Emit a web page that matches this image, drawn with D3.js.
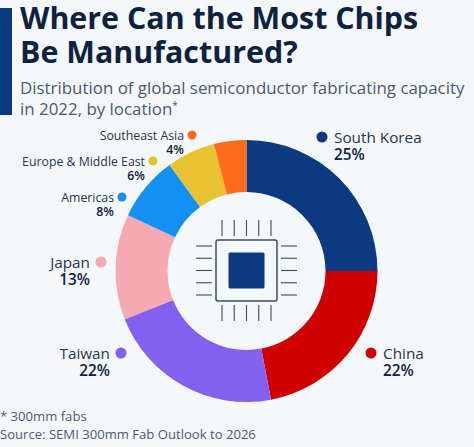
<!DOCTYPE html>
<html>
<head>
<meta charset="utf-8">
<script src="https://cdn.jsdelivr.net/npm/d3@7"></script>
<style>
  html, body { margin: 0; padding: 0; background: #f5f8fb; }
  svg { display: block; font-family: "Open Sans", sans-serif; }
</style>
</head>
<body>
<div id="chart"></div>
<script>
// data
const locations = ["South Korea", "China", "Taiwan", "Japan", "Americas", "Europe & Middle East", "Southeast Asia"];
const shares = [25, 22, 22, 13, 8, 6, 4];
const colors = ["#0b3a82", "#d00000", "#8360f0", "#f6a9b0", "#1490f5", "#e8c230", "#fb6c1e"];
// label placement: dot x, y, side, big or small label
const labelSpots = [
  { x: 322, y: 137, side: "right", big: true },
  { x: 371, y: 353, side: "right", big: true },
  { x: 121, y: 353, side: "left", big: true },
  { x: 101, y: 262, side: "left", big: true },
  { x: 122, y: 197, side: "left", big: false },
  { x: 153, y: 161, side: "left", big: false },
  { x: 192, y: 135, side: "left", big: false }
];
const pinOffsets = [-24.5, -12.25, 0, 12.25, 24.5];

const svgWidth = 474, svgHeight = 447;
const cx = 246.5, cy = 271;

const svg = d3.select("#chart")
  .append("svg")
  .attr("width", svgWidth)
  .attr("height", svgHeight);

svg.append("rect")
  .attr("width", svgWidth)
  .attr("height", svgHeight)
  .attr("fill", "#f5f8fb");

// header
svg.append("rect")
  .attr("x", 0).attr("y", 8)
  .attr("width", 12).attr("height", 107)
  .attr("fill", "#0b3a82");

const titleLines = ["Where Can the Most Chips", "Be Manufactured?"];
svg.selectAll(".title")
  .data(titleLines)
  .enter()
  .append("text")
  .attr("class", "title")
  .attr("x", 20)
  .attr("y", (d, i) => 29 + i * 34)
  .attr("font-size", 30.4)
  .attr("font-weight", 700)
  .attr("fill", "#0e2240")
  .text(d => d);

svg.append("text")
  .attr("x", 20).attr("y", 94)
  .attr("font-size", 16.9)
  .attr("fill", "#4a5a70")
  .text("Distribution of global semiconductor fabricating capacity");

const sub2 = svg.append("text")
  .attr("x", 20).attr("y", 115)
  .attr("font-size", 16.9)
  .attr("fill", "#4a5a70")
  .text("in 2022, by location");
sub2.append("tspan")
  .attr("dy", -6)
  .attr("font-size", 10)
  .text("*");

// donut
const pie = d3.pie().sort(null).value(d => d.share);
const arc = d3.arc().innerRadius(79).outerRadius(131);
const rows = locations.map((name, i) => ({ name: name, share: shares[i], color: colors[i], spot: labelSpots[i] }));

const donut = svg.append("g")
  .attr("transform", `translate(${cx}, ${cy})`);

donut.selectAll("path")
  .data(pie(rows))
  .enter()
  .append("path")
  .attr("d", arc)
  .attr("fill", d => d.data.color);

// chip icon
const chip = svg.append("g")
  .attr("transform", `translate(${cx}, ${cy - 0.5})`);

chip.append("rect")
  .attr("x", -30.5).attr("y", -30.5)
  .attr("width", 61).attr("height", 61)
  .attr("rx", 2)
  .attr("fill", "none")
  .attr("stroke", "#3c4a60")
  .attr("stroke-width", 1.5);

chip.append("rect")
  .attr("x", -18).attr("y", -18)
  .attr("width", 36).attr("height", 36)
  .attr("rx", 1.5)
  .attr("fill", "#0b3a82");

pinOffsets.forEach(function(p) {
  [[p, -50.5, p, -34.5], [p, 34.5, p, 50.5], [-50.5, p, -34.5, p], [34.5, p, 50.5, p]].forEach(function(l) {
    chip.append("line")
      .attr("x1", l[0]).attr("y1", l[1])
      .attr("x2", l[2]).attr("y2", l[3])
      .attr("stroke", "#3c4a60")
      .attr("stroke-width", 1.1);
  });
});

// labels
const labels = svg.selectAll(".label")
  .data(rows)
  .enter()
  .append("g")
  .attr("class", "label")
  .attr("transform", d => `translate(${d.spot.x}, ${d.spot.y})`);

labels.append("circle")
  .attr("r", d => d.spot.big ? 5.5 : 4.5)
  .attr("fill", d => d.color);

labels.append("text")
  .attr("x", d => d.spot.side == "right" ? (d.spot.big ? 12 : 8) : (d.spot.big ? -11 : -8))
  .attr("y", d => d.spot.big ? 5.5 : 4.5)
  .attr("text-anchor", d => d.spot.side == "right" ? "start" : "end")
  .attr("font-size", d => d.spot.big ? 15.3 : 12.3)
  .attr("fill", "#26354d")
  .text(d => d.name);

labels.append("text")
  .attr("x", d => d.spot.side == "right" ? (d.spot.big ? 12 : 8) : (d.spot.big ? -11 : -8))
  .attr("y", d => d.spot.big ? 22.5 : 18.5)
  .attr("text-anchor", d => d.spot.side == "right" ? "start" : "end")
  .attr("font-size", d => d.spot.big ? 15.3 : 12.3)
  .attr("font-weight", 600)
  .attr("fill", "#0e2240")
  .text(d => d.share + "%");

// footer
svg.append("text")
  .attr("x", 0).attr("y", 421)
  .attr("font-size", 13.1)
  .attr("fill", "#4a5a70")
  .text("* 300mm fabs");

svg.append("text")
  .attr("x", 0).attr("y", 439)
  .attr("font-size", 13.1)
  .attr("fill", "#4a5a70")
  .text("Source: SEMI 300mm Fab Outlook to 2026");
</script>
</body>
</html>
